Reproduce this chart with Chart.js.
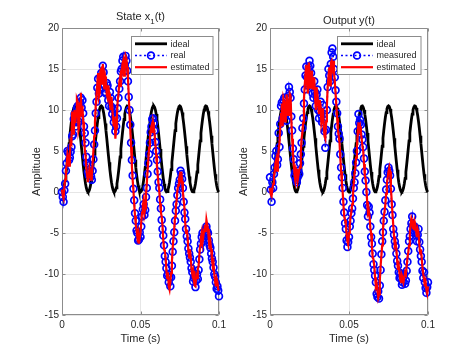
<!DOCTYPE html>
<html><head><meta charset="utf-8">
<script src="https://cdn.jsdelivr.net/npm/chart.js@4.4.1/dist/chart.umd.min.js"></script>
<style>
html,body{margin:0;padding:0;background:#fff;}
#wrap{position:relative;width:474px;height:357px;overflow:hidden;background:#fff;}
canvas{position:absolute;top:0;}
</style></head><body>
<div id="wrap">
<canvas id="c1" width="237" height="357" style="left:0px"></canvas>
<canvas id="c2" width="237" height="357" style="left:237px"></canvas>
</div>
<script>
// ---------------- data (sampled every 0.5 ms) ----------------
const time = [
0,0.0005,0.001,0.0015,0.002,0.0025,0.003,0.0035,0.004,0.0045,
0.005,0.0055,0.006,0.0065,0.007,0.0075,0.008,0.0085,0.009,0.0095,
0.01,0.0105,0.011,0.0115,0.012,0.0125,0.013,0.0135,0.014,0.0145,
0.015,0.0155,0.016,0.0165,0.017,0.0175,0.018,0.0185,0.019,0.0195,
0.02,0.0205,0.021,0.0215,0.022,0.0225,0.023,0.0235,0.024,0.0245,
0.025,0.0255,0.026,0.0265,0.027,0.0275,0.028,0.0285,0.029,0.0295,
0.03,0.0305,0.031,0.0315,0.032,0.0325,0.033,0.0335,0.034,0.0345,
0.035,0.0355,0.036,0.0365,0.037,0.0375,0.038,0.0385,0.039,0.0395,
0.04,0.0405,0.041,0.0415,0.042,0.0425,0.043,0.0435,0.044,0.0445,
0.045,0.0455,0.046,0.0465,0.047,0.0475,0.048,0.0485,0.049,0.0495,
0.05,0.0505,0.051,0.0515,0.052,0.0525,0.053,0.0535,0.054,0.0545,
0.055,0.0555,0.056,0.0565,0.057,0.0575,0.058,0.0585,0.059,0.0595,
0.06,0.0605,0.061,0.0615,0.062,0.0625,0.063,0.0635,0.064,0.0645,
0.065,0.0655,0.066,0.0665,0.067,0.0675,0.068,0.0685,0.069,0.0695,
0.07,0.0705,0.071,0.0715,0.072,0.0725,0.073,0.0735,0.074,0.0745,
0.075,0.0755,0.076,0.0765,0.077,0.0775,0.078,0.0785,0.079,0.0795,
0.08,0.0805,0.081,0.0815,0.082,0.0825,0.083,0.0835,0.084,0.0845,
0.085,0.0855,0.086,0.0865,0.087,0.0875,0.088,0.0885,0.089,0.0895,
0.09,0.0905,0.091,0.0915,0.092,0.0925,0.093,0.0935,0.094,0.0945,
0.095,0.0955,0.096,0.0965,0.097,0.0975,0.098,0.0985,0.099,0.0995,
0.1];

const ideal = [
0.00,0.09,0.37,0.82,1.42,2.16,3.01,3.94,4.92,5.91,
6.87,7.78,8.60,9.30,9.85,10.24,10.46,10.49,10.34,10.00,
9.50,8.84,8.06,7.18,6.23,5.25,4.27,3.32,2.44,1.66,
1.00,0.50,0.16,0.01,0.04,0.26,0.65,1.20,1.90,2.72,
3.63,4.59,5.58,6.56,7.49,8.34,9.08,9.68,10.13,10.41,
10.50,10.41,10.13,9.68,9.08,8.34,7.49,6.56,5.58,4.59,
3.63,2.72,1.90,1.20,0.65,0.26,0.04,0.01,0.16,0.50,
1.00,1.66,2.44,3.32,4.27,5.25,6.23,7.18,8.06,8.84,
9.50,10.00,10.34,10.49,10.46,10.24,9.85,9.30,8.60,7.78,
6.87,5.91,4.92,3.94,3.01,2.16,1.42,0.82,0.37,0.09,
0.00,0.09,0.37,0.82,1.42,2.16,3.01,3.94,4.92,5.91,
6.87,7.78,8.60,9.30,9.85,10.24,10.46,10.49,10.34,10.00,
9.50,8.84,8.06,7.18,6.23,5.25,4.27,3.32,2.44,1.66,
1.00,0.50,0.16,0.01,0.04,0.26,0.65,1.20,1.90,2.72,
3.63,4.59,5.58,6.56,7.49,8.34,9.08,9.68,10.13,10.41,
10.50,10.41,10.13,9.68,9.08,8.34,7.49,6.56,5.58,4.59,
3.63,2.72,1.90,1.20,0.65,0.26,0.04,0.01,0.16,0.50,
1.00,1.66,2.44,3.32,4.27,5.25,6.23,7.18,8.06,8.84,
9.50,10.00,10.34,10.49,10.46,10.24,9.85,9.30,8.60,7.78,
6.87,5.91,4.92,3.94,3.01,2.16,1.42,0.82,0.37,0.09,
0.00];

const stateReal = [
0.0,-0.6,-1.2,0.2,1.0,2.6,3.5,5.0,4.8,3.9,
4.2,4.9,5.5,6.8,7.0,8.9,9.5,8.0,8.5,10.2,
10.5,8.6,9.0,10.9,11.5,10.3,11.2,9.6,8.0,7.2,
6.0,4.3,3.5,2.4,2.0,3.3,2.8,1.9,1.5,2.6,
4.0,5.8,7.5,9.6,11.0,12.7,13.8,12.0,12.5,14.0,
14.5,13.7,15.4,14.6,13.0,12.2,12.0,13.3,13.0,11.2,
10.5,12.2,11.5,10.4,9.5,10.1,8.5,9.1,7.4,8.0,
9.0,10.2,11.5,12.6,13.5,14.7,15.0,16.0,16.5,14.7,
15.5,16.6,16.0,14.8,13.5,11.6,10.0,8.2,6.0,3.9,
2.0,0.4,-1.0,-2.6,-3.5,-4.7,-5.0,-5.9,-5.8,-4.9,
-5.5,-4.2,-3.0,-2.1,-1.5,-2.8,-2.2,-0.6,0.5,2.2,
3.5,4.6,6.0,7.3,8.0,8.9,9.0,8.4,7.5,6.1,
5.0,3.9,2.5,1.2,0.5,-0.9,-2.0,-3.4,-4.5,-5.3,
-6.5,-7.8,-8.5,-9.3,-10.2,-10.0,-11.0,-10.4,-11.5,-10.4,
-9.0,-7.3,-6.0,-4.9,-3.5,-2.3,-1.5,-0.4,0.5,1.0,
1.5,2.6,2.2,1.6,0.5,-1.2,-2.5,-3.3,-4.5,-5.4,
-6.0,-6.9,-7.5,-8.0,-8.5,-9.3,-9.8,-10.9,-10.5,-10.2,
-11.6,-10.8,-10.0,-10.6,-9.5,-8.2,-7.0,-6.3,-5.5,-5.0,
-6.0,-5.6,-5.0,-4.5,-4.2,-4.8,-5.0,-5.9,-6.5,-6.8,
-7.5,-8.1,-8.5,-9.2,-10.0,-10.3,-11.0,-11.8,-11.5,-12.0,
-12.7];

const stateEst = [
0.3,-0.5,-0.8,0.6,1.5,2.8,3.2,4.6,4.0,3.2,
4.5,6.2,6.0,9.8,8.5,7.0,10.0,8.4,9.5,11.3,
11.0,7.5,8.0,10.8,12.1,9.2,10.5,8.6,7.0,5.2,
4.5,3.0,2.0,1.2,1.8,2.9,2.5,1.5,2.0,3.5,
5.0,6.8,8.5,10.6,12.0,13.2,14.5,11.6,12.0,14.8,
15.0,13.2,15.6,13.8,12.5,14.1,13.5,11.9,11.5,13.0,
12.0,10.8,10.0,11.6,10.5,8.8,8.0,9.2,6.5,7.8,
9.5,11.2,12.0,13.4,14.0,12.8,14.5,15.6,16.0,14.2,
15.0,16.6,16.3,15.2,14.0,11.8,9.5,7.6,5.5,3.2,
1.5,0.2,-1.5,-2.9,-4.0,-4.6,-5.5,-5.0,-6.3,-5.6,
-5.0,-3.6,-2.5,-1.6,-1.0,-2.6,-2.0,-0.3,1.0,2.6,
4.0,5.4,6.5,7.6,8.0,7.2,8.5,7.9,7.0,5.8,
4.5,3.1,2.0,0.9,0.0,-1.4,-2.5,-3.0,-4.0,-5.8,
-7.0,-7.2,-8.0,-9.6,-10.5,-9.8,-11.5,-11.9,-11.0,-9.9,
-8.5,-6.8,-5.5,-4.4,-3.0,-1.8,-1.0,0.2,0.8,1.5,
2.0,1.6,2.5,1.3,0.0,-1.0,-2.0,-3.8,-5.0,-4.6,
-5.5,-7.2,-8.0,-7.0,-8.0,-9.4,-10.0,-9.6,-10.8,-11.4,
-11.5,-10.2,-10.5,-9.4,-9.0,-7.6,-6.5,-5.6,-5.0,-6.2,
-5.5,-4.6,-4.0,-4.9,-3.4,-4.0,-4.5,-5.8,-7.0,-6.1,
-7.0,-8.2,-9.0,-8.6,-10.0,-10.9,-11.5,-10.6,-11.0,-11.9,
-12.0];

const outMeasured = [
1.8,0.3,-1.2,1.2,0.5,2.2,3.0,4.4,5.0,3.3,
4.0,7.2,5.5,8.3,10.5,10.9,9.0,11.2,11.5,10.3,
9.5,8.7,10.0,11.7,12.8,12.2,11.5,9.2,7.5,5.3,
4.0,2.0,2.4,1.5,1.2,1.8,2.6,2.2,3.5,4.6,
6.0,7.8,9.0,10.8,12.5,14.2,15.3,14.0,13.0,15.2,
16.0,15.4,14.5,12.8,12.0,11.5,13.5,12.2,10.5,11.9,
12.5,10.0,9.0,9.8,11.0,9.4,8.5,10.6,9.5,7.4,
5.4,7.6,10.0,12.8,15.0,14.2,13.5,15.6,17.0,17.5,
16.5,15.0,14.0,12.4,11.0,9.6,8.0,7.1,6.5,4.6,
3.0,1.8,0.5,-1.2,-2.5,-3.8,-4.5,-5.9,-6.7,-6.1,
-5.5,-4.2,-3.5,-2.6,-2.0,-0.8,0.5,1.2,2.3,3.6,
5.0,7.4,9.5,8.4,8.8,8.2,7.0,6.4,5.5,4.1,
2.5,1.4,0.0,-1.6,-3.0,-1.8,-2.5,-4.2,-5.5,-6.3,
-7.5,-8.8,-9.5,-10.2,-11.0,-12.4,-12.8,-12.1,-13.0,-11.4,
-9.5,-7.6,-6.0,-4.9,-3.5,-2.4,-1.0,0.3,1.5,2.4,
3.0,2.6,2.0,0.4,-1.5,-2.8,-4.5,-5.2,-6.0,-6.6,
-7.5,-8.4,-9.0,-9.8,-10.5,-9.9,-10.5,-11.3,-11.0,-10.4,
-10.0,-11.2,-10.8,-9.6,-8.5,-7.2,-6.0,-5.4,-4.5,-3.8,
-3.0,-4.1,-5.0,-4.2,-4.5,-5.3,-6.0,-5.2,-4.5,-6.1,
-7.0,-7.8,-8.5,-9.6,-10.5,-9.8,-11.0,-11.7,-12.3,-11.6,
-11.0];

const outEst = [
0.5,-0.3,-0.5,0.4,1.0,2.0,2.5,3.6,4.0,2.6,
3.5,5.2,6.0,8.0,9.5,10.8,8.0,11.4,11.0,8.6,
9.0,11.9,11.0,9.4,10.0,12.0,11.8,8.8,6.5,4.8,
3.5,2.2,1.5,2.8,2.5,1.4,2.0,2.7,3.0,4.8,
6.5,7.2,8.5,11.4,13.0,14.6,15.5,13.0,12.0,15.8,
15.0,12.6,13.5,14.8,12.5,13.2,14.0,11.6,10.0,12.8,
12.0,10.6,9.5,11.2,10.5,8.4,9.0,10.2,8.0,6.8,
6.5,8.6,10.5,12.8,14.0,15.2,13.0,15.8,16.0,15.2,
16.0,14.6,13.5,12.0,10.5,9.0,7.5,6.8,6.0,4.2,
2.5,1.0,0.0,-1.6,-3.0,-3.4,-4.0,-5.2,-6.0,-6.4,
-5.0,-4.0,-3.0,-2.4,-1.5,-0.4,1.0,2.2,3.0,4.2,
5.5,7.0,8.5,7.6,8.0,7.2,6.5,5.6,5.0,3.4,
2.0,1.6,0.5,-1.2,-2.5,-2.2,-3.0,-4.4,-5.0,-6.6,
-8.0,-8.2,-9.0,-10.4,-11.5,-11.2,-12.0,-12.9,-12.5,-10.8,
-9.0,-7.8,-6.5,-4.6,-3.0,-2.4,-1.5,-0.2,1.0,1.8,
2.5,3.0,2.5,0.6,-1.0,-2.6,-4.0,-5.4,-6.5,-6.2,
-7.0,-8.4,-9.5,-9.0,-10.0,-10.8,-11.0,-10.2,-10.5,-11.0,
-10.5,-9.8,-10.0,-9.0,-8.0,-7.4,-6.5,-5.0,-4.0,-3.2,
-3.5,-4.4,-4.5,-3.6,-4.0,-4.8,-5.5,-4.6,-5.0,-6.4,
-7.5,-7.0,-8.0,-9.2,-10.0,-10.6,-11.5,-11.0,-12.0,-12.4,
-11.5];

const xTicks = [0, 0.05, 0.1];
const xTickLabels = ['0', '0.05', '0.1'];
const yTicks = [-15, -10, -5, 0, 5, 10, 15, 20];
const yTickLabels = ['-15', '-10', '-5', '0', '5', '10', '15', '20'];
const stateLabels = ['ideal', 'real', 'estimated'];
const outputLabels = ['ideal', 'measured', 'estimated'];
const stateTitle = [{t: 'State x'}, {t: '1', sub: true}, {t: '(t)'}];
const outputTitle = [{t: 'Output y(t)'}];
const xTitle = 'Time (s)';
const yTitle = 'Amplitude';

// ---------------- drawing ----------------
const FONT = "'Liberation Sans', Arial, Helvetica, sans-serif";
const TXT = '#262626';
const AX = '#8c8c8c';

function pts(ys) {
  const n = Math.min(ys.length, time.length);
  const out = [];
  for (let i = 0; i < n; i++) out.push({x: time[i], y: ys[i]});
  return out;
}

const decor = {
  id: 'decor',
  beforeDatasetsDraw(chart, args, o) {
    const {ctx, chartArea: a, scales: {x, y}} = chart;
    ctx.save();
    ctx.strokeStyle = AX; ctx.lineWidth = 1;
    const L = Math.round(a.left) + 0.5, R = Math.round(a.right) - 0.5;
    const T = Math.round(a.top) + 0.5, B = Math.round(a.bottom) - 0.5;
    ctx.beginPath();
    ctx.rect(L, T, R - L, B - T);
    xTicks.forEach(v => {
      const px = Math.round(x.getPixelForValue(v)) + 0.5;
      ctx.moveTo(px, B); ctx.lineTo(px, B - 3);
      ctx.moveTo(px, T); ctx.lineTo(px, T + 3);
    });
    yTicks.forEach(v => {
      const py = Math.round(y.getPixelForValue(v)) + 0.5;
      ctx.moveTo(L, py); ctx.lineTo(L + 3, py);
      ctx.moveTo(R, py); ctx.lineTo(R - 3, py);
    });
    ctx.stroke();
    ctx.restore();
  },
  afterDraw(chart, args, o) {
    const {ctx, chartArea: a} = chart;
    ctx.save();
    const mainF = '11px ' + FONT, subF = '8px ' + FONT;
    let total = 0;
    o.title.forEach(p => { ctx.font = p.sub ? subF : mainF; p.w = ctx.measureText(p.t).width; total += p.w; });
    let cx = (a.left + a.right) / 2 - total / 2;
    ctx.fillStyle = TXT; ctx.textBaseline = 'alphabetic'; ctx.textAlign = 'left';
    o.title.forEach(p => {
      ctx.font = p.sub ? subF : mainF;
      ctx.fillText(p.t, cx, p.sub ? o.titleBase + 4 : o.titleBase);
      cx += p.w;
    });
    const lb = o.legend;
    const bx = Math.round(a.right - lb.right - lb.w) + 0.5, by = Math.round(a.top + lb.top) + 0.5;
    ctx.fillStyle = '#fff';
    ctx.fillRect(bx, by, lb.w, lb.h);
    ctx.strokeStyle = AX; ctx.lineWidth = 1;
    ctx.strokeRect(bx, by, lb.w, lb.h);
    chart.data.datasets.forEach((ds, i) => {
      const yy = by + 7.3 + i * 11.7;
      const x0 = bx + 3.5, x1 = bx + 35.5;
      ctx.save();
      ctx.strokeStyle = ds.borderColor; ctx.lineWidth = ds.borderWidth;
      ctx.setLineDash(ds.borderDash || []);
      ctx.beginPath(); ctx.moveTo(x0, yy); ctx.lineTo(x1, yy); ctx.stroke();
      ctx.setLineDash([]);
      if (ds.pointRadius > 0) {
        ctx.lineWidth = ds.pointBorderWidth; ctx.strokeStyle = ds.pointBorderColor;
        ctx.beginPath(); ctx.arc((x0 + x1) / 2, yy, ds.pointRadius, 0, Math.PI * 2); ctx.stroke();
      }
      ctx.restore();
      ctx.fillStyle = TXT; ctx.font = '9px ' + FONT; ctx.textBaseline = 'middle';
      ctx.fillText(o.labels[i], bx + 39, yy + 0.5);
    });
    ctx.restore();
  }
};

function makePanel(id, realVals, estVals, labels, title, cfg) {
  return new Chart(document.getElementById(id), {
    type: 'line',
    data: {
      datasets: [
        {label: labels[0], data: pts(ideal), borderColor: '#000000', borderWidth: 2.8, pointRadius: 0, tension: 0, order: 3, clip: false},
        {label: labels[1], data: pts(realVals), borderColor: '#0000ff', borderWidth: 1.6, borderDash: [2, 2.5], pointRadius: 3.4, pointBorderWidth: 1.7, pointBorderColor: '#0000ff', pointBackgroundColor: 'rgba(0,0,0,0)', tension: 0, order: 2, clip: false},
        {label: labels[2], data: pts(estVals), borderColor: '#ff0000', borderWidth: 2.2, pointRadius: 0, tension: 0, order: 1, clip: false}
      ]
    },
    options: {
      responsive: false, animation: false, events: [],
      layout: {padding: {left: 0, right: cfg.padRight, top: 28, bottom: 0}},
      scales: {
        x: {
          type: 'linear', min: 0, max: 0.1,
          afterBuildTicks: s => { s.ticks = xTicks.map(v => ({value: v})); },
          afterFit: s => { s.height = 42; },
          ticks: {callback: (v, i) => xTickLabels[i], color: TXT, font: {family: FONT, size: 10}, padding: 4, maxRotation: 0, autoSkip: false},
          grid: {color: '#e6e6e6', drawTicks: false},
          border: {display: false},
          title: {display: true, text: xTitle, color: TXT, font: {family: FONT, size: 11}, padding: {top: 0, bottom: 11.4}}
        },
        y: {
          type: 'linear', min: -15, max: 20,
          afterBuildTicks: s => { s.ticks = yTicks.map(v => ({value: v})); },
          afterFit: s => { s.width = cfg.yWidth; },
          ticks: {callback: (v, i) => yTickLabels[i], color: TXT, font: {family: FONT, size: 10}, padding: 3, autoSkip: false},
          grid: {color: '#e6e6e6', drawTicks: false},
          border: {display: false},
          title: {display: true, text: yTitle, color: TXT, font: {family: FONT, size: 11}, padding: {top: cfg.yTitlePad, bottom: 0}}
        }
      },
      plugins: {
        legend: {display: false}, tooltip: {enabled: false},
        decor: {title: title, titleBase: cfg.titleBase, labels: labels, legend: {right: cfg.legRight, top: 8, w: cfg.legW, h: 38}}
      }
    },
    plugins: [decor]
  });
}

makePanel('c1', stateReal, stateEst, stateLabels, stateTitle, {padRight: 18, yWidth: 62, yTitlePad: 30.4, titleBase: 20, legRight: 7, legW: 81.5});
makePanel('c2', outMeasured, outEst, outputLabels, outputTitle, {padRight: 46, yWidth: 33, yTitlePad: 0.4, titleBase: 24, legRight: 7.3, legW: 83.5});
</script>
</body></html>
